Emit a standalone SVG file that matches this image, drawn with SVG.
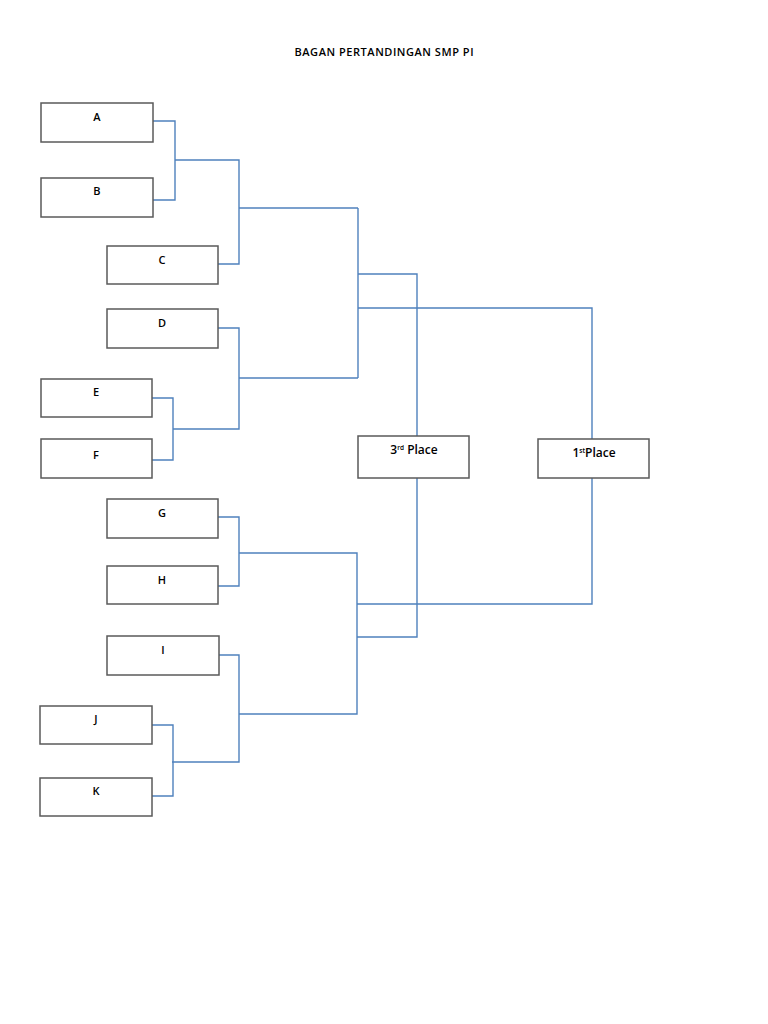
<svg xmlns="http://www.w3.org/2000/svg" width="768" height="1024" viewBox="0 0 768 1024">
<style>
.box{fill:#fff;stroke:#5a5a5a;stroke-width:1.5}
.lbl{font-family:"Open Sans","Liberation Sans",sans-serif;font-size:11px;font-weight:600;fill:#000;text-anchor:middle}
.big{font-size:12px}
.ttl{font-family:"Open Sans","Liberation Sans",sans-serif;font-size:11px;font-weight:600;fill:#000;text-anchor:middle}
.sup{font-size:6.5px}
.con{fill:none;stroke:#4f81bd;stroke-width:1.4}
</style>
<rect width="768" height="1024" fill="#fff"/>
<text class="ttl" x="384" y="56" textLength="179">BAGAN PERTANDINGAN SMP PI</text>
<g id="connectors">
<polyline class="con" points="153,121 175,121 175,200 153,200"/>
<polyline class="con" points="175,160 239,160 239,264 218,264"/>
<line class="con" x1="239" y1="208" x2="358" y2="208"/>
<polyline class="con" points="218,328 239,328 239,429 173,429"/>
<polyline class="con" points="152,398 173,398 173,460 152,460"/>
<line class="con" x1="239" y1="378" x2="358" y2="378"/>
<line class="con" x1="358" y1="208" x2="358" y2="378"/>
<polyline class="con" points="358,274 417,274 417,436"/>
<polyline class="con" points="358,308 592,308 592,439"/>
<polyline class="con" points="218,517 239,517 239,586 218,586"/>
<polyline class="con" points="239,553 357,553 357,714 239,714"/>
<polyline class="con" points="219,655 239,655 239,762 172,762"/>
<polyline class="con" points="152,725 173,725 173,796 152,796"/>
<polyline class="con" points="357,604 592,604 592,478"/>
<polyline class="con" points="357,637 417,637 417,478"/>
</g>
<g id="A"><rect class="box" x="41" y="103" width="112" height="39"/><text class="lbl" x="97" y="121">A</text></g>
<g id="B"><rect class="box" x="41" y="178" width="112" height="39"/><text class="lbl" x="97" y="195">B</text></g>
<g id="C"><rect class="box" x="107" y="246" width="111" height="38"/><text class="lbl" x="162" y="264">C</text></g>
<g id="D"><rect class="box" x="107" y="309" width="111" height="39"/><text class="lbl" x="162" y="327">D</text></g>
<g id="E"><rect class="box" x="41" y="379" width="111" height="38"/><text class="lbl" x="96" y="396">E</text></g>
<g id="F"><rect class="box" x="41" y="439" width="111" height="39"/><text class="lbl" x="96" y="459">F</text></g>
<g id="G"><rect class="box" x="107" y="499" width="111" height="39"/><text class="lbl" x="162" y="517">G</text></g>
<g id="H"><rect class="box" x="107" y="566" width="111" height="38"/><text class="lbl" x="162" y="584">H</text></g>
<g id="I"><rect class="box" x="107" y="636" width="112" height="39"/><text class="lbl" x="163" y="654">I</text></g>
<g id="J"><rect class="box" x="40" y="706" width="112" height="38"/><text class="lbl" x="96" y="723">J</text></g>
<g id="K"><rect class="box" x="40" y="778" width="112" height="38"/><text class="lbl" x="96" y="795">K</text></g>
<g id="third"><rect class="box" x="358" y="436" width="111" height="42"/><text class="lbl big" x="414" y="454">3<tspan class="sup" dy="-4">rd</tspan><tspan dy="4"> Place</tspan></text></g>
<g id="first"><rect class="box" x="538" y="439" width="111" height="39"/><text class="lbl big" x="594" y="457">1<tspan class="sup" dy="-4">st</tspan><tspan dy="4">Place</tspan></text></g>
</svg>
